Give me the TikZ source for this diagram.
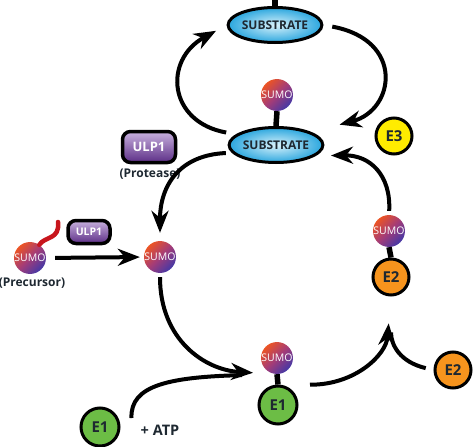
\documentclass[tikz,border=0pt]{standalone}
\usepackage{fontspec}
\setmainfont{Open Sans}
\usetikzlibrary{arrows.meta,shapes.geometric}

\definecolor{sumored}{HTML}{EC5424}
\definecolor{sumomid}{HTML}{A33C78}
\definecolor{sumoblue}{HTML}{4438A6}
\definecolor{subcyan}{HTML}{2AA6DE}
\definecolor{sublight}{HTML}{D8F2FB}
\definecolor{eonegreen}{HTML}{6CBD45}
\definecolor{etwoorange}{HTML}{F7941D}
\definecolor{ethreeyellow}{HTML}{FFEC00}
\definecolor{ulpdark}{HTML}{5C2E86}
\definecolor{ulplight}{HTML}{C9B2DF}
\definecolor{tailred}{HTML}{C8161D}
\definecolor{inkdark}{HTML}{1E2831}

\tikzstyle{sumoball}=[circle, minimum size=31pt, inner sep=0pt, top color=sumored, bottom color=sumoblue, middle color=sumomid, shading angle=45, text=white, font=\fontsize{10.5}{10.5}\selectfont]
\tikzstyle{substrate}=[ellipse, draw=black, line width=3pt, minimum width=92pt, minimum height=35pt, inner sep=0pt, inner color=sublight, outer color=subcyan, text=inkdark, font=\bfseries\fontsize{12}{12}\selectfont]
\tikzstyle{enzyme}=[circle, draw=black, line width=3pt, minimum size=36pt, inner sep=0pt, text=inkdark, font=\bfseries\fontsize{15}{15}\selectfont]
\tikzstyle{ulpbox}=[rectangle, rounded corners=8pt, draw=black, line width=3.5pt, top color=ulplight, bottom color=ulpdark, text=white, font=\bfseries\fontsize{13}{13}\selectfont]
\tikzstyle{note}=[text=inkdark, font=\bfseries\fontsize{12}{12}\selectfont]
\tikzstyle{stick}=[line width=5.5pt, black]
\tikzstyle{flow}=[line width=4pt, black, -{Stealth[length=22pt,width=17pt,inset=7pt]}]
\tikzstyle{flowtail}=[line width=4pt, black]

\begin{document}
\begin{tikzpicture}[x=1pt,y=1pt]
        \useasboundingbox (0,0) rectangle (474,-447);
        \node[substrate] at (275,-25) (subtop) {SUBSTRATE};
        \node[substrate] at (276,-145) (sub) {SUBSTRATE};
        \node[sumoball] at (277,-95) (sumosub) {SUMO};
        \node[enzyme, fill=ethreeyellow] at (394,-136) (ethree) {E3};
        \node[ulpbox, minimum width=53pt, minimum height=31pt] at (149,-147) (ulp) {ULP1};
        \node[note] at (150,-174) (protease) {(Protease)};
        \node[ulpbox, minimum width=42pt, minimum height=23pt, font=\bfseries\fontsize{10.5}{10.5}\selectfont] at (89,-232) (ulpsmall) {ULP1};
        \node[sumoball] at (30,-258) (sumopre) {SUMO};
        \node[note] at (32,-283) (precursor) {(Precursor)};
        \node[sumoball] at (160,-257) (sumofree) {SUMO};
        \node[sumoball] at (389,-231) (sumoetwo) {SUMO};
        \node[enzyme, fill=etwoorange] at (391,-277) (etwo) {E2};
        \node[sumoball] at (277,-358) (sumoeone) {SUMO};
        \node[enzyme, fill=eonegreen, minimum size=38pt] at (278,-405) (eone) {E1};
        \node[enzyme, fill=eonegreen, minimum size=38pt] at (100,-427) (eonefree) {E1};
        \node[note, font=\bfseries\fontsize{14.5}{14.5}\selectfont] at (160,-430) (atp) {+ ATP};
        \node[enzyme, fill=etwoorange] at (453,-370) (etwofree) {E2};
        \draw[stick] (subtop.north) -- ++(0,8);
        \draw[stick] (sumosub.south) -- (sub.north);
        \draw[stick] (sumoetwo.south) -- (etwo.north);
        \draw[stick] (sumoeone.south) -- (eone.north);
        \draw[tailred, line width=4.5pt, line cap=round] (sumopre.55) .. controls (45,-236) and (60,-240) .. (58,-222);
        \draw[flow, shorten <=10pt, shorten >=12pt] (sub.165) .. controls (168,-122) and (163,-60) .. (subtop.west);
        \draw[flow, shorten <=9pt, shorten >=29pt] (subtop.east) .. controls (405,-40) and (395,-110) .. (sub.20);
        \draw[flow, shorten <=6pt, shorten >=8pt] (sub.190) .. controls (180,-155) and (160,-185) .. (sumofree.north);
        \draw[flow, shorten <=9pt, shorten >=4pt] (sumopre.east) -- (sumofree.west);
        \draw[flow, shorten <=4pt, shorten >=24pt] (sumofree.south) .. controls (160,-340) and (205,-370) .. (sumoeone.south);
        \draw[flowtail, shorten >=35pt] ([xshift=11pt,yshift=9pt]eonefree.east) .. controls (130,-385) and (170,-377) .. (sumoeone.south);
        \draw[flow, shorten <=32pt, shorten >=27pt] (eone.north) .. controls (355,-385) and (386,-355) .. (etwo.south);
        \draw[flowtail, shorten <=8pt, shorten >=36pt] (etwofree.west) .. controls (400,-362) and (391,-345) .. (etwo.south);
        \draw[flow, shorten <=4pt, shorten >=15pt] (sumoetwo.north) .. controls (391,-175) and (370,-155) .. (sub.345);
\end{tikzpicture}
\end{document}
